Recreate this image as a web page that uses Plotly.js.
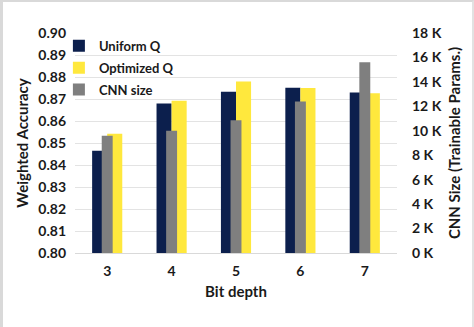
<!DOCTYPE html>
<html>
<head>
<meta charset="utf-8">
<script src="https://cdn.plot.ly/plotly-3.0.1.min.js"></script>
<style>
  html, body { margin: 0; padding: 0; background: #ffffff; }
  #wrap { position: absolute; left: 0; top: 0; width: 474px; height: 327px; box-sizing: border-box;
          border-top: 2px solid #d9d9d9; border-left: 3px solid #d9d9d9; border-right: 2px solid #e2e2e2; }
  #chart { position: absolute; left: -3px; top: -2px; width: 474px; height: 327px; }
</style>
</head>
<body>
<div id="wrap"><div id="chart"></div></div>
<script>
const bitDepths = ['3', '4', '5', '6', '7'];
const uniformQ = [0.8465, 0.868, 0.8733, 0.8751, 0.873];
const optimizedQ = [0.8542, 0.8692, 0.878, 0.875, 0.8726];
const cnnSizeK = [9.6, 10.0, 10.86, 12.4, 15.6];
const accTicks = [0.80, 0.81, 0.82, 0.83, 0.84, 0.85, 0.86, 0.87, 0.88, 0.89, 0.90];
const sizeTicks = [0, 2, 4, 6, 8, 10, 12, 14, 16, 18];
const sizeTickText = ['0 K', '2 K', '4 K', '6 K', '8 K', '10 K', '12 K', '14 K', '16 K', '18 K'];

const fontFam = 'Lato, "Open Sans", sans-serif';
const txt = '#1a1a1a';

const traces = [
  { type: 'bar', name: 'Uniform Q', x: bitDepths, y: uniformQ, yaxis: 'y',
    marker: { color: '#0c1f4d' }, width: 0.234, offset: -0.234, legendgroup: 'a' },
  { type: 'bar', name: 'Optimized Q', x: bitDepths, y: optimizedQ, yaxis: 'y',
    marker: { color: '#ffe83d' }, width: 0.234, offset: 0, legendgroup: 'b' },
  { type: 'bar', name: 'CNN size', x: bitDepths, y: cnnSizeK, yaxis: 'y2',
    marker: { color: '#7f7f7f' }, width: 0.17, offset: -0.085, legendgroup: 'c' }
];

const layout = {
  width: 474, height: 327,
  margin: { l: 75, r: 77, t: 33, b: 74 },
  paper_bgcolor: 'rgba(0,0,0,0)', plot_bgcolor: '#ffffff',
  barmode: 'overlay',
  font: { family: fontFam, size: 13, color: txt, weight: 700 },
  showlegend: true,
  legend: { x: -0.05, y: 1.01, xanchor: 'left', yanchor: 'top', bgcolor: 'rgba(0,0,0,0)',
            traceorder: 'grouped', tracegroupgap: 2,
            font: { family: fontFam, size: 13, color: txt, weight: 700 } },
  xaxis: { type: 'category', showgrid: false, showline: true, linecolor: '#d9d9d9', linewidth: 1,
           ticks: '', tickfont: { size: 14, weight: 700 }, ticklabelstandoff: 5,
           title: { text: 'Bit depth', font: { size: 15, weight: 700 }, standoff: 8 } },
  yaxis: { range: [0.80, 0.90], tickvals: accTicks, tickformat: '.2f', showgrid: true,
           gridcolor: '#e3e3e3', zeroline: false, ticks: '', ticklabelstandoff: 8,
           tickfont: { size: 14, weight: 700 },
           title: { text: 'Weighted Accuracy', font: { size: 15, weight: 700 }, standoff: 6 } },
  yaxis2: { overlaying: 'y', side: 'right', range: [0, 18], tickvals: sizeTicks, ticktext: sizeTickText,
            showgrid: false, zeroline: false, ticks: '', ticklabelstandoff: 14,
            tickfont: { size: 14, weight: 700 },
            title: { text: 'CNN Size (Trainable Params.)', font: { size: 15, weight: 700 }, standoff: 8 } }
};

Plotly.newPlot('chart', traces, layout, { displayModeBar: false, staticPlot: true });
</script>
</body>
</html>
